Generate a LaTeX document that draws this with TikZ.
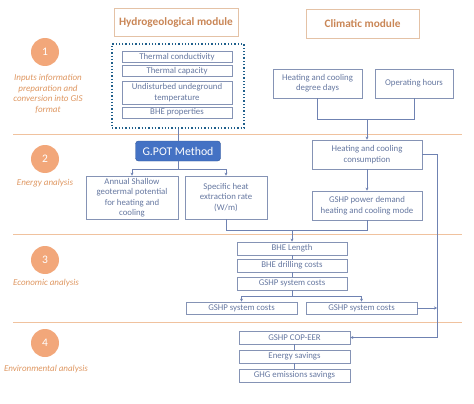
\documentclass[tikz,border=0pt]{standalone}
\usepackage{fontspec}
\setmainfont{Carlito}
\usetikzlibrary{arrows.meta}
\definecolor{boxc}{HTML}{8593B5}
\definecolor{txtc}{HTML}{6577A0}
\definecolor{linec}{HTML}{6F82B2}
\definecolor{orc}{HTML}{F2A77A}
\definecolor{ortxt}{HTML}{DE9660}
\definecolor{hdtxt}{HTML}{C98656}
\definecolor{hdbox}{HTML}{E4C2A6}
\definecolor{sepc}{HTML}{F0C29E}
\definecolor{dotc}{HTML}{1F5F8B}
\definecolor{gpot}{HTML}{4472C4}
\definecolor{gpotb}{HTML}{2F5597}
\tikzset{
  box/.style={draw=boxc, line width=0.7pt, inner sep=0pt, align=center, text=txtc,
    font=\fontsize{8.8}{10.4}\selectfont},
  header/.style={draw=hdbox, line width=0.7pt, inner sep=0pt, text=hdtxt,
    font=\fontsize{11.3}{13}\selectfont\bfseries},
  num/.style={circle, fill=orc, minimum size=28pt, inner sep=0pt, text=white,
    font=\fontsize{11.5}{13}\selectfont},
  sectxt/.style={text=ortxt, align=center, inner sep=0pt,
    font=\fontsize{9}{10.7}\selectfont\itshape},
  sep/.style={draw=sepc, line width=0.8pt},
  conn/.style={draw=linec, line width=0.6pt},
  arr/.style={conn, -{Stealth[length=3pt,width=3pt]}},
}
\begin{document}
\begin{tikzpicture}[x=1pt,y=-1pt]
\useasboundingbox (0,0) rectangle (474,404);
% headers
\node[header, minimum width=124pt, minimum height=28pt] (hh) at (176,22) {Hydrogeological module};
\node[header, minimum width=113pt, minimum height=29pt] (ch) at (362.5,23.5) {Climatic module};
% separators
\coordinate (s1a) at (13,134); \coordinate (s1b) at (462,134);
\coordinate (s2a) at (13,234); \coordinate (s2b) at (462,234);
\coordinate (s3a) at (13,322); \coordinate (s3b) at (462,322);
\draw[sep] (s1a) -- (s1b);
\draw[sep] (s2a) -- (s2b);
\draw[sep] (s3a) -- (s3b);
% section labels
\node[num] (n1) at (45,52) {1};
\node[sectxt] (t1) at (48,94) {Inputs information\\preparation and\\conversion into GIS\\format};
\node[num] (n2) at (45,159) {2};
\node[sectxt] (t2) at (45,183) {Energy analysis};
\node[num] (n3) at (45,260) {3};
\node[sectxt] (t3) at (46,283) {Economic analysis};
\node[num] (n4) at (45,343) {4};
\node[sectxt] (t4) at (46,369) {Environmental analysis};
% hydrogeological inputs
\node[draw=dotc, dotted, line width=1.3pt, minimum width=132pt, minimum height=84pt, inner sep=0pt] (dot) at (178,86) {};
\node[box, minimum width=110pt, minimum height=11pt] (tc) at (177,57) {Thermal conductivity};
\node[box, minimum width=110pt, minimum height=11pt] (tcap) at (177,71) {Thermal capacity};
\node[box, minimum width=110pt, minimum height=23pt] (ut) at (177,92.5) {Undisturbed undeground\\temperature};
\node[box, minimum width=110pt, minimum height=11pt] (bp) at (177,112.5) {BHE properties};
% climatic inputs
\node[box, minimum width=89pt, minimum height=29pt] (hd) at (317.5,83.5) {Heating and cooling\\degree days};
\node[box, minimum width=78pt, minimum height=29pt] (oh) at (414,83.5) {Operating hours};
% energy analysis
\node[draw=gpotb, fill=gpot, rounded corners=3pt, minimum width=85pt, minimum height=20pt, inner sep=0pt, text=white, font=\fontsize{11.8}{13}\selectfont] (gp) at (178,151) {G.POT Method};
\node[box, minimum width=92pt, minimum height=43pt] (as) at (132,197.5) {Annual Shallow\\geotermal potential\\for heating and\\cooling};
\node[box, minimum width=82pt, minimum height=43pt] (sh) at (226,197.5) {Specific heat\\extraction rate\\(W/m)};
\node[box, minimum width=110pt, minimum height=29pt] (hc) at (367,154.5) {Heating and cooling\\consumption};
\node[box, minimum width=110pt, minimum height=29pt] (pd) at (367,205.5) {GSHP power  demand\\heating and cooling mode};
% economic analysis
\node[box, minimum width=110pt, minimum height=13pt] (bl) at (292,248.5) {BHE Length};
\node[box, minimum width=110pt, minimum height=13pt] (bd) at (292,265.5) {BHE drilling costs};
\node[box, minimum width=110pt, minimum height=13pt] (gs) at (292,283.5) {GSHP system costs};
\node[box, minimum width=111pt, minimum height=12pt] (gl) at (241.5,308) {GSHP system costs};
\node[box, minimum width=111pt, minimum height=12pt] (gr) at (361.5,308) {GSHP system costs};
% environmental analysis
\node[box, minimum width=111pt, minimum height=13pt] (cop) at (294.5,337.5) {GSHP COP-EER};
\node[box, minimum width=111pt, minimum height=13pt] (es) at (294.5,356.5) {Energy savings};
\node[box, minimum width=111pt, minimum height=13pt] (ghg) at (294.5,375.5) {GHG emissions savings};
% connectors
\draw[conn] (dot.south) -- (gp.north);
\coordinate (gpj) at (178,169);
\draw[conn] (gp.south) -- (gpj);
\draw[arr] (gpj) -| (as.north);
\draw[arr] (gpj) -| (sh.north);
\coordinate (clj) at (367,119);
\draw[conn] (hd.south) |- (clj);
\draw[conn] (oh.south) |- (clj);
\draw[arr] (clj) -- (hc.north);
\draw[arr] (hc.south) -- (pd.north);
\coordinate (ej) at (292,230);
\draw[conn] (sh.south) |- (ej);
\draw[conn] (pd.south) |- (ej);
\draw[arr] (ej) -- (bl.north);
\draw[conn] (bl.south) -- (bd.north);
\draw[conn] (bd.south) -- (gs.north);
\coordinate (gj) at (292,296);
\draw[conn] (gs.south) -- (gj);
\draw[arr] (gj) -| (gl.north);
\draw[arr] (gj) -| (gr.north);
\coordinate (rt) at (437,154.5);
\coordinate (rb) at (437,337.5);
\coordinate (rm) at (437,308);
\draw[arr] (hc.east) -- (rt) -- (rb) -- (cop.east);
\draw[arr] (gr.east) -- (rm);
\draw[conn] (cop.south) -- (es.north);
\draw[conn] (es.south) -- (ghg.north);
\end{tikzpicture}
\end{document}
